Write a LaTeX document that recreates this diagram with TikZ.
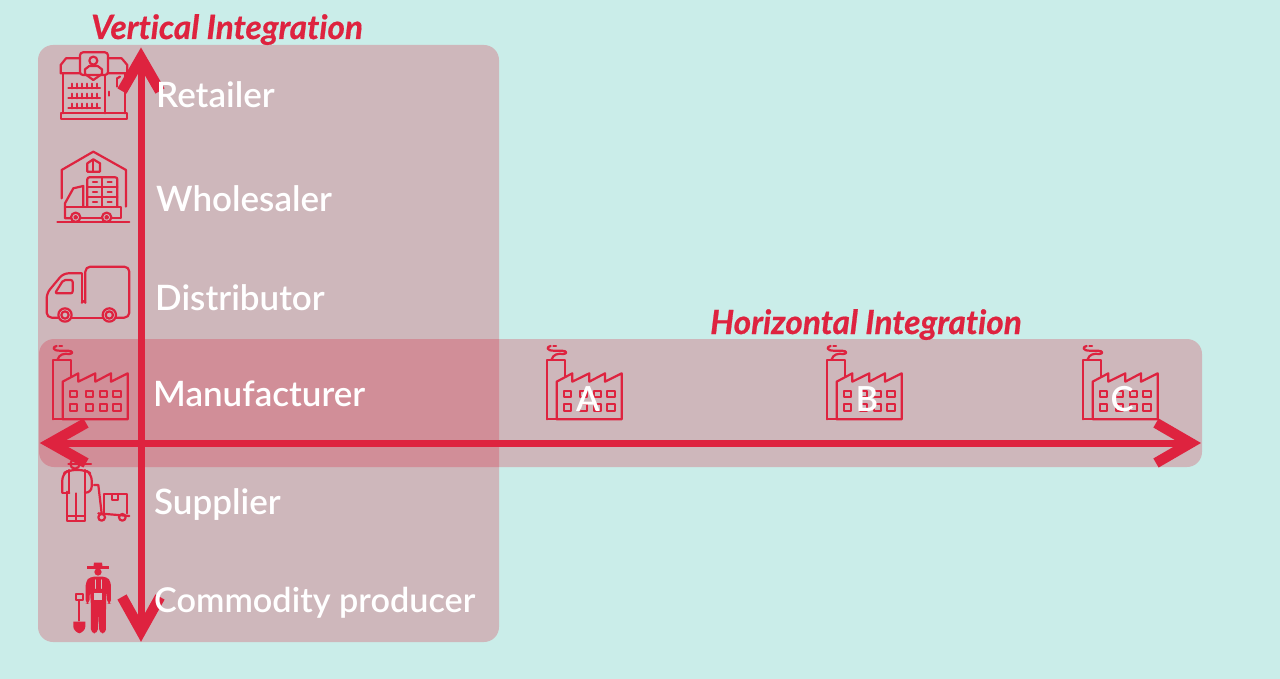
\documentclass[tikz,border=0pt]{standalone}
\usepackage{fontspec}
\setmainfont{Lato Semibold}
\newfontfamily\titlefont{Lato Bold Italic}[FakeBold=0.6,Ligatures=NoCommon]
\usetikzlibrary{arrows.meta}
\definecolor{bgcol}{HTML}{CAEDE9}
\definecolor{redcol}{HTML}{DE233F}
\definecolor{bandcol}{RGB}{222,17,45}
\definecolor{bibcol}{HTML}{D5BEC2}
\tikzset{
  panel/.style={fill=bandcol,fill opacity=.245,draw=none,rounded corners=15pt},
  icon/.style={draw=redcol,line width=2.2pt,line join=round,line cap=round},
  iconfill/.style={fill=redcol,draw=none},
  axisline/.style={draw=redcol,line width=7pt},
  axishead/.style={draw=redcol,line width=10.5pt,line join=miter,line cap=butt,miter limit=10},
  lab/.style={text=white,anchor=base west,inner sep=0pt,font=\fontsize{35}{36}\selectfont},
  fact/.style={text=white,anchor=base,inner sep=0pt,font=\fontsize{34.6}{36}\selectfont},
  ttl/.style={text=redcol,anchor=base west,inner sep=0pt,font=\titlefont\fontsize{33.4}{36}\selectfont}
}
\newcommand{\factoryicon}[1]{%
 \begin{scope}[shift={(#1,330)},x=0.3333pt,y=-0.3333pt,icon]
  \draw (52,268)--(52,90)--(105,90)--(105,140);
  \draw (80,268)--(80,155)--(127,130)--(127,155)--(178,130)--(178,155)--(225,130)--(225,155)--(275,130)--(275,268)--cycle;
  \draw (52,268)--(80,268);
  \draw (65,88) .. controls (70,72) and (85,70) .. (100,72) .. controls (112,72) and (112,62) .. (95,62) -- (70,62) .. controls (50,62) and (48,50) .. (62,48);
  \draw (70,48) -- (78,48);
  \foreach \cx in {113,160,203,243}{\foreach \cy in {192,233}{
    \draw (\cx-11,\cy-10) rectangle (\cx+11,\cy+10);}}
 \end{scope}}
\begin{document}
\begin{tikzpicture}[x=1pt,y=-1pt]
\useasboundingbox (0,0) rectangle (1280,679);
\fill[bgcol] (0,0) rectangle (1280,679);
\fill[panel] (38,45) rectangle (499,642);
\fill[panel] (39,339) rectangle (1202,467);

% retailer
\begin{scope}[shift={(30,30)},x=0.3333pt,y=-0.3333pt,icon]
 \draw (92,250) rectangle (292,266);
 \draw (100,250)--(100,132); \draw (285,250)--(285,132); \draw (225,135)--(225,250);
 \draw (150,85)--(108,85)--(92,105)--(92,130)--(150,130);
 \draw (234,85)--(275,85)--(292,105)--(292,130)--(234,130);
 \draw[rounded corners=3pt] (150,67) rectangle (234,135);
 \draw (190,92) circle (12);
 \draw (165,132)--(165,118)--(178,108)--(203,108)--(216,118)--(216,132)--(190,150)--cycle;
 \foreach \yy in {175,205,235}{
  \draw (115,\yy)--(210,\yy);
  \foreach \xx in {125,140,155,170,185,200}{\draw (\xx,\yy)--(\xx,\yy-14);}}
 \draw (237,185)--(237,197); \draw (262,145)--(262,170); \draw (262,145)--(270,140);
\end{scope}

% wholesaler
\begin{scope}[shift={(30,30)},x=0.3333pt,y=-0.3333pt,icon]
 \draw (95,505)--(95,420)--(190,365)--(288,420)--(288,530);
 \draw (172,425)--(172,400)--(190,388)--(210,400)--(210,425)--cycle; \draw (190,390)--(190,425);
 \draw[rounded corners=2pt] (172,530)--(172,442)--(262,442)--(262,530);
 \draw (217,442)--(217,530); \draw (172,472)--(262,472); \draw (172,500)--(262,500);
 \foreach \xx in {195,239}{\foreach \yy in {457,486,515}{\draw (\xx-6,\yy)--(\xx+6,\yy);}}
 \draw (160,530)--(160,468)--(130,475)--(105,520)--(105,565)--(122,565);
 \draw (105,530)--(272,530)--(272,565)--(245,565);
 \draw (152,565)--(215,565);
 \draw (137,562) circle (14); \draw (137,562) circle (4);
 \draw (230,562) circle (14); \draw (230,562) circle (4);
 \draw (82,576)--(298,576);
\end{scope}

% distributor truck
\begin{scope}[shift={(30,250)},x=0.3333pt,y=-0.3333pt,icon]
 \draw[rounded corners=5pt] (155,70)--(100,70)--(50,130)--(50,203)--(85,203);
 \draw (155,158)--(155,70);
 \draw[rounded corners=5pt] (166,158)--(166,50)--(298,50)--(298,203)--(258,203);
 \draw (155,158) arc (180:360:5.5);
 \draw (125,203)--(218,203);
 \draw (105,195) circle (20); \draw (105,195) circle (11);
 \draw (238,195) circle (20); \draw (238,195) circle (11);
 \draw[rounded corners=2pt] (75,130)--(100,90)--(128,90)--(128,130)--cycle;
\end{scope}

\factoryicon{36}
\factoryicon{530}
\factoryicon{810}
\factoryicon{1066}

% supplier
\begin{scope}[shift={(30,450)},x=0.3333pt,y=-0.3333pt,icon]
 \draw (135,42) circle (14); \draw (115,42)--(183,42);
 \draw[rounded corners=6pt] (97,128)--(97,72)--(118,60)--(165,60)--(185,72)--(185,128)--(165,128);
 \draw (97,128)--(118,128); \draw (118,60)--(118,128); \draw (165,60)--(165,128);
 \draw (112,125)--(112,212)--(165,212)--(165,125); \draw (138,130)--(138,212); \draw (112,198)--(165,198);
 \draw (192,105)--(205,105)--(215,190);
 \draw (222,190)--(222,133)--(292,133)--(292,190);
 \draw (245,133)--(245,150)--(265,150)--(265,133);
 \draw (205,190)--(298,198);
 \draw (215,202) circle (10); \draw (277,202) circle (10);
\end{scope}

% farmer
\begin{scope}[shift={(30,450)},x=0.3333pt,y=-0.3333pt]
 \fill[iconfill] (170,349) rectangle (238,357);
 \fill[iconfill] (190,352)--(192,338)--(216,338)--(218,352)--cycle;
 \fill[iconfill] (204,366) circle (11);
 \fill[iconfill,rounded corners=4pt] (167,462)--(167,395)--(180,380)--(230,380)--(243,395)--(243,462)--(232,462)--(229,420)--(228,470)--(228,550)--(208,550)--(206,490)--(203,550)--(183,550)--(183,470)--(180,420)--(178,462)--cycle;
 \fill[bibcol] (192,428) rectangle (217,450);
 \draw[icon,line width=1pt,draw=bibcol] (196,390)--(196,415); \draw[icon,line width=1pt,draw=bibcol] (214,390)--(214,415);
 \draw[icon,line width=1.8pt] (137,433) rectangle (158,450);
 \draw[icon,line width=1.8pt] (148,450)--(148,512);
 \fill[iconfill] (130,515)--(166,515)--(166,530) .. controls (166,540) and (155,548) .. (148,550) .. controls (141,548) and (130,540) .. (130,530) --cycle;
\end{scope}

% axes
\coordinate (vtop) at (141,58);
\coordinate (vbot) at (141,631);
\coordinate (hleft) at (50.5,443);
\coordinate (hright) at (1190.5,443);
\draw[axisline] (vbot)--(vtop);
\draw[axisline] (hleft)--(hright);
\draw[axishead] (122,91)--(vtop)--(160,91);
\draw[axishead] (122,597)--(vbot)--(160,597);
\draw[axishead] (86,423)--(hleft)--(86,463);
\draw[axishead] (1156,423)--(hright)--(1156,463);

% labels
\node[ttl] (vt) at (91,39) {Vertical Integration};
\node[ttl] (ht) at (710,334) {Horizontal Integration};
\node[lab] (l1) at (156,108) {Retailer};
\node[lab] (l2) at (156,212) {Wholesaler};
\node[lab] (l3) at (155,310) {Distributor};
\node[lab] (l4) at (153,406) {Manufacturer};
\node[lab] (l5) at (154,514) {Supplier};
\node[lab,font=\fontsize{34.2}{36}\selectfont] (l6) at (154,612) {Commodity producer};
\node[fact] (fa) at (588,411) {A};
\node[fact] (fb) at (867,411) {B};
\node[fact] (fc) at (1122,411) {C};
\end{tikzpicture}
\end{document}
